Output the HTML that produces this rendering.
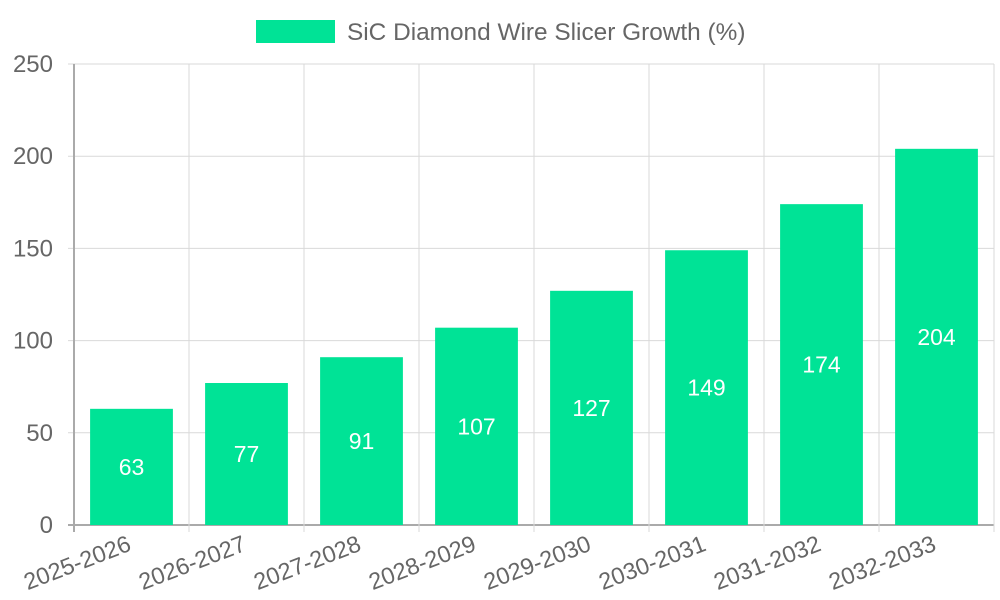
<!DOCTYPE html>
<html><head><meta charset="utf-8"><style>
html,body{margin:0;padding:0;background:#fff;}
svg{display:block;font-family:"Liberation Sans",sans-serif;}
</style></head><body>
<svg id="chart" width="1000" height="600"></svg>
<script>
const categories=["2025-2026","2026-2027","2027-2028","2028-2029","2029-2030","2030-2031","2031-2032","2032-2033"];
const values=[63,77,91,107,127,149,174,204];
const yTicks=[0,50,100,150,200,250];
const seriesName="SiC Diamond Wire Slicer Growth (%)";
const NS="http://www.w3.org/2000/svg";
const svg=document.getElementById('chart');
const L=74,R=994,T=64,B=525,yMax=250;
const bw=(R-L)/categories.length;
const y=v=>B-(v/yMax)*(B-T);
const xc=i=>L+bw*(i+0.5);
function mk(tag,attrs,parent){const e=document.createElementNS(NS,tag);for(const k in attrs)e.setAttribute(k,attrs[k]);(parent||svg).appendChild(e);return e;}
const lg=mk('g',{});


mk('rect',{x:256,y:20,width:79,height:23,fill:'#00e396'},lg);
const lt=mk('text',{x:347,y:40,'font-size':24.4,fill:'#666'},lg);lt.textContent=seriesName;
yTicks.forEach(t=>{
 const g=mk('line',{x1:L-6,x2:R,y1:y(t),y2:y(t),stroke:t===0?'#aaa':'#d9d9d9','stroke-width':t===0?2:1});
 
 
 const tx=mk('text',{x:L-21,y:y(t)+8,'text-anchor':'end','font-size':24,fill:'#666'});
 
 
 tx.textContent=t;
});
for(let i=0;i<=categories.length;i++){
 const x=L+bw*i;
 const g=mk('line',{x1:x,x2:x,y1:T,y2:B+7,stroke:i===0?'#aaa':'#d9d9d9','stroke-width':i===0?2:1});
 
 
}
categories.forEach((c,i)=>{
 const w=bw*0.72;
 const r=mk('rect',{x:xc(i)-w/2,y:y(values[i]),width:w,height:B-y(values[i]),fill:'#00e396'});
 
 
 const v=mk('text',{x:xc(i),y:(y(values[i])+B)/2+8,'text-anchor':'middle','font-size':23,fill:'#fff'});
 
 
 v.textContent=values[i];
 const lx=xc(i)+1,ly=550;
 const t=mk('text',{x:lx,y:ly,'text-anchor':'end','font-size':23.5,fill:'#666',transform:`rotate(-21 ${lx} ${ly})`});
 
 
 t.textContent=c;
});
</script>
</body></html>
